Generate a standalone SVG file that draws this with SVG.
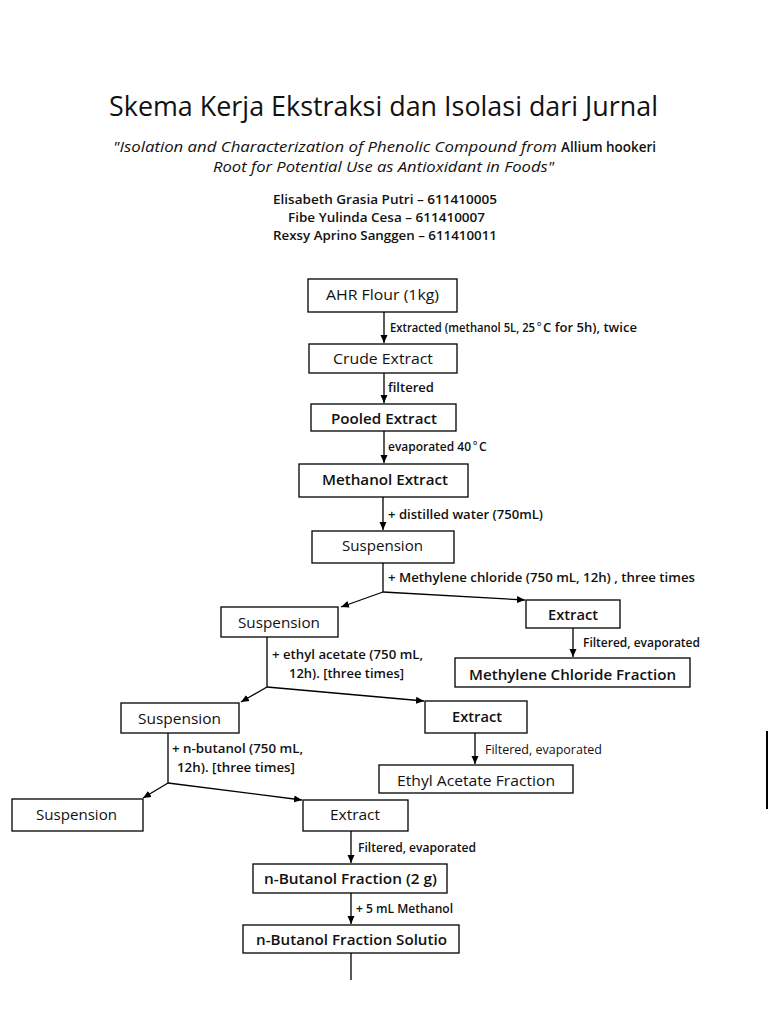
<svg xmlns="http://www.w3.org/2000/svg" width="768" height="1024" viewBox="0 0 768 1024">
<defs>
<marker id="ah" markerWidth="8" markerHeight="8" refX="8" refY="4" orient="auto" markerUnits="userSpaceOnUse">
<path d="M0,0.5 L8,4 L0,7.5 z" fill="#000"/>
</marker>
<style>
text{font-family:"Open Sans","Lato","Liberation Sans",sans-serif;fill:#111}
.title{font-size:28px}
.sub{font-size:15px;font-style:italic}
.subb{font-size:15px;font-weight:600}
.auth{font-size:12.5px;font-weight:600}
.box{fill:#fff;stroke:#000;stroke-width:1.3}
.bt{font-size:14.5px}
.bb{font-size:14.5px;font-weight:600}
.lb{font-size:12px;font-weight:600}
.lr{font-size:12px}
.sup{font-size:7px;font-weight:600}
.ln{stroke:#000;stroke-width:1.3;fill:none}
.arr{stroke:#000;stroke-width:1.3;fill:none;marker-end:url(#ah)}
</style>
</defs>
<rect width="768" height="1024" fill="#fff"/>

<g id="header">
<text class="title" x="109" y="116" textLength="549" lengthAdjust="spacingAndGlyphs">Skema Kerja Ekstraksi dan Isolasi dari Jurnal</text>
<text class="sub" x="113" y="152" textLength="444" lengthAdjust="spacingAndGlyphs">"Isolation and Characterization of Phenolic Compound from</text>
<text class="subb" x="561" y="152" textLength="95" lengthAdjust="spacingAndGlyphs">Allium hookeri</text>
<text class="sub" x="213" y="172" textLength="341" lengthAdjust="spacingAndGlyphs">Root for Potential Use as Antioxidant in Foods"</text>
<text class="auth" x="273" y="204" textLength="224" lengthAdjust="spacingAndGlyphs">Elisabeth Grasia Putri – 611410005</text>
<text class="auth" x="288" y="222" textLength="197" lengthAdjust="spacingAndGlyphs">Fibe Yulinda Cesa – 611410007</text>
<text class="auth" x="273" y="240" textLength="224" lengthAdjust="spacingAndGlyphs">Rexsy Aprino Sanggen – 611410011</text>
</g>

<g id="connectors">
<line class="arr" x1="384" y1="312" x2="384" y2="343"/>
<line class="arr" x1="384" y1="373" x2="384" y2="403"/>
<line class="arr" x1="384" y1="431" x2="384" y2="463"/>
<line class="arr" x1="383" y1="497" x2="383" y2="530"/>
<line class="ln" x1="383" y1="563" x2="383" y2="592"/>
<line class="arr" x1="383" y1="592" x2="341" y2="607"/>
<line class="arr" x1="383" y1="592" x2="525" y2="600"/>
<line class="arr" x1="573" y1="628" x2="573" y2="657"/>
<line class="ln" x1="267" y1="637" x2="267" y2="687"/>
<line class="arr" x1="267" y1="687" x2="241" y2="702"/>
<line class="arr" x1="267" y1="687" x2="424" y2="701"/>
<line class="arr" x1="475" y1="733" x2="475" y2="764"/>
<line class="ln" x1="168" y1="733" x2="168" y2="783"/>
<line class="arr" x1="168" y1="783" x2="143" y2="798"/>
<line class="arr" x1="168" y1="783" x2="302" y2="800"/>
<line class="arr" x1="351" y1="831" x2="351" y2="863"/>
<line class="arr" x1="351" y1="893" x2="351" y2="924"/>
<line class="ln" x1="351" y1="953" x2="351" y2="980"/>
<line x1="767" y1="731" x2="767" y2="809" stroke="#000" stroke-width="2"/>
</g>

<g id="labels">
<text class="lb" y="332"><tspan x="390" textLength="145" lengthAdjust="spacingAndGlyphs">Extracted (methanol 5L, 25</tspan><tspan class="sup" x="537" dy="-6">o</tspan><tspan x="543" dy="6" textLength="94" lengthAdjust="spacingAndGlyphs">C for 5h), twice</tspan></text>
<text class="lb" x="388" y="392" textLength="46" lengthAdjust="spacingAndGlyphs">filtered</text>
<text class="lb" y="451"><tspan x="388" textLength="83" lengthAdjust="spacingAndGlyphs">evaporated 40</tspan><tspan class="sup" x="473" dy="-6">o</tspan><tspan x="479" dy="6">C</tspan></text>
<text class="lb" x="388" y="519" textLength="155" lengthAdjust="spacingAndGlyphs">+ distilled water (750mL)</text>
<text class="lb" x="388" y="582" textLength="307" lengthAdjust="spacingAndGlyphs">+ Methylene chloride (750 mL, 12h) , three times</text>
<text class="lb" x="583" y="647" textLength="117" lengthAdjust="spacingAndGlyphs">Filtered, evaporated</text>
<text class="lb" x="272" y="659" textLength="151" lengthAdjust="spacingAndGlyphs">+ ethyl acetate (750 mL,</text>
<text class="lb" x="289" y="678" textLength="115" lengthAdjust="spacingAndGlyphs">12h). [three times]</text>
<text class="lb" x="172" y="753" textLength="131" lengthAdjust="spacingAndGlyphs">+ n-butanol (750 mL,</text>
<text class="lb" x="177" y="772" textLength="118" lengthAdjust="spacingAndGlyphs">12h). [three times]</text>
<text class="lr" x="485" y="754" textLength="117" lengthAdjust="spacingAndGlyphs">Filtered, evaporated</text>
<text class="lb" x="358" y="852" textLength="118" lengthAdjust="spacingAndGlyphs">Filtered, evaporated</text>
<text class="lb" x="356" y="913" textLength="97" lengthAdjust="spacingAndGlyphs">+ 5 mL Methanol</text>
</g>

<g id="n-ahr"><rect class="box" x="308" y="279" width="149" height="33"/><text class="bt" x="326" y="300" textLength="113" lengthAdjust="spacingAndGlyphs">AHR Flour (1kg)</text></g>
<g id="n-crude"><rect class="box" x="309" y="344" width="148" height="29"/><text class="bt" x="333" y="364" textLength="100" lengthAdjust="spacingAndGlyphs">Crude Extract</text></g>
<g id="n-pooled"><rect class="box" x="311" y="404" width="145" height="27"/><text class="bb" x="331" y="424" textLength="106" lengthAdjust="spacingAndGlyphs">Pooled Extract</text></g>
<g id="n-methanol"><rect class="box" x="299" y="464" width="169" height="33" stroke-width="1.8"/><text class="bb" x="322" y="485" textLength="126" lengthAdjust="spacingAndGlyphs">Methanol Extract</text></g>
<g id="n-susp1"><rect class="box" x="312" y="531" width="142" height="32"/><text class="bt" x="342" y="551" textLength="81" lengthAdjust="spacingAndGlyphs">Suspension</text></g>
<g id="n-extract1"><rect class="box" x="526" y="600" width="94" height="28"/><text class="bb" x="548" y="620" textLength="50" lengthAdjust="spacingAndGlyphs">Extract</text></g>
<g id="n-susp2"><rect class="box" x="221" y="607" width="117" height="30"/><text class="bt" x="238" y="628" textLength="82" lengthAdjust="spacingAndGlyphs">Suspension</text></g>
<g id="n-mcf"><rect class="box" x="455" y="658" width="235" height="29" stroke-width="1.8"/><text class="bb" x="469" y="680" textLength="207" lengthAdjust="spacingAndGlyphs">Methylene Chloride Fraction</text></g>
<g id="n-susp3"><rect class="box" x="121" y="703" width="118" height="30"/><text class="bt" x="138" y="724" textLength="83" lengthAdjust="spacingAndGlyphs">Suspension</text></g>
<g id="n-extract2"><rect class="box" x="425" y="701" width="102" height="32"/><text class="bb" x="452" y="722" textLength="50" lengthAdjust="spacingAndGlyphs">Extract</text></g>
<g id="n-eaf"><rect class="box" x="379" y="765" width="194" height="28" stroke-width="1.8"/><text class="bt" x="397" y="786" textLength="158" lengthAdjust="spacingAndGlyphs">Ethyl Acetate Fraction</text></g>
<g id="n-susp4"><rect class="box" x="12" y="799" width="131" height="32"/><text class="bt" x="36" y="820" textLength="81" lengthAdjust="spacingAndGlyphs">Suspension</text></g>
<g id="n-extract3"><rect class="box" x="303" y="800" width="105" height="31" stroke-width="1.8"/><text class="bt" x="330" y="820" textLength="50" lengthAdjust="spacingAndGlyphs">Extract</text></g>
<g id="n-nbf"><rect class="box" x="253" y="864" width="194" height="29" stroke-width="1.8"/><text class="bb" x="264" y="884" textLength="173" lengthAdjust="spacingAndGlyphs">n-Butanol Fraction (2 g)</text></g>
<g id="n-nbfs"><rect class="box" x="243" y="925" width="216" height="28"/><text class="bb" x="256" y="945" textLength="191" lengthAdjust="spacingAndGlyphs">n-Butanol Fraction Solutio</text></g>
</svg>
